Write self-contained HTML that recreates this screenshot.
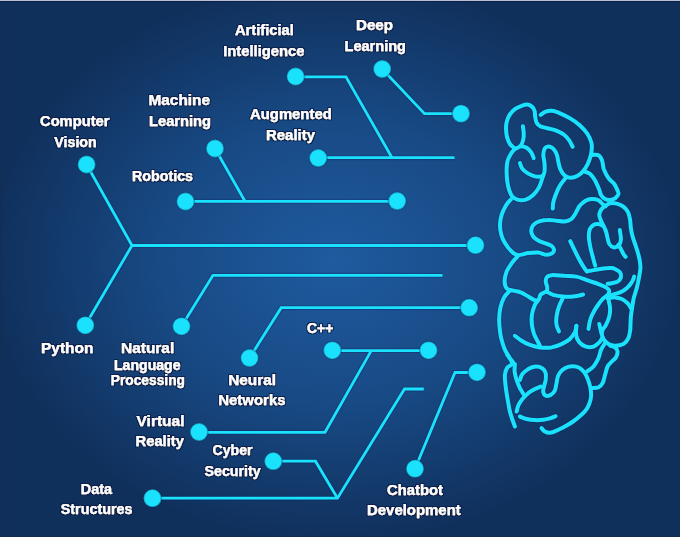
<!DOCTYPE html>
<html><head><meta charset="utf-8"><title>AI Topics</title>
<style>
html,body{margin:0;padding:0;background:#10305c;}
body{width:680px;height:537px;overflow:hidden;position:relative;}
#bg{position:absolute;left:0;top:0;width:680px;height:537px;
 background:radial-gradient(ellipse 345px 280px at 335px 262px,#1f5b9f 0%,#184a85 50%,#10305c 100%);}
#edge{position:absolute;left:0;top:0;width:680px;height:537px;box-sizing:border-box;border:1px solid rgba(30,40,72,.45);}
#topline{position:absolute;left:0;top:0;width:680px;height:1px;background:#b9c0d2;}
#topline2{position:absolute;left:0;top:1px;width:680px;height:1px;background:#0a1f4c;}
svg{position:absolute;left:0;top:0;}
.ln{fill:none;stroke:#1ae2fc;stroke-width:2.8;stroke-linejoin:miter;stroke-linecap:butt;}
.sh{fill:none;stroke:#0c2a66;stroke-opacity:.35;stroke-width:5;stroke-linejoin:miter;}
.dot{fill:#1ae2fc;stroke:#0e2d5e;stroke-opacity:.35;stroke-width:1.6;}
.br{fill:none;stroke:#1ae2fc;stroke-width:4;stroke-linecap:round;stroke-linejoin:round;}
.brs{fill:none;stroke:#0c2a66;stroke-opacity:.35;stroke-width:6;stroke-linecap:round;stroke-linejoin:round;}
text{font-family:"Liberation Sans",sans-serif;font-weight:bold;font-size:15.4px;fill:#fff;stroke:#fff;stroke-width:.25px;stroke-linejoin:round;}
</style></head>
<body>
<div id="bg"></div>
<svg id="art" width="680" height="537" viewBox="0 0 680 537">

<g class="sh">
<path d="M86.6 164.5 L132 245.5 L85.3 325.3"/>
<path d="M132 245.5 H475.5"/>
<path d="M185.5 201.3 H397.2"/>
<path d="M215 148.5 L245 201.3"/>
<path d="M318.2 157.7 H454.5"/>
<path d="M295.6 76.8 H346 L392 157.7"/>
<path d="M382.2 69 L424.5 113.7 H461"/>
<path d="M181.5 326.3 L213 275.3 H442.5"/>
<path d="M249.5 358 L281.2 307.7 H469.2"/>
<path d="M332.3 350.6 H428.5"/>
<path d="M199 432.3 H325 L371.3 350.6"/>
<path d="M273.3 461.2 H315.5 L337.5 498.2"/>
<path d="M152.5 498.2 H337.5 L404.5 389 H423.8"/>
<path d="M415 468.7 L455 372.5 H477"/>
</g>
<g class="ln">
<path d="M86.6 164.5 L132 245.5 L85.3 325.3"/>
<path d="M132 245.5 H475.5"/>
<path d="M185.5 201.3 H397.2"/>
<path d="M215 148.5 L245 201.3"/>
<path d="M318.2 157.7 H454.5"/>
<path d="M295.6 76.8 H346 L392 157.7"/>
<path d="M382.2 69 L424.5 113.7 H461"/>
<path d="M181.5 326.3 L213 275.3 H442.5"/>
<path d="M249.5 358 L281.2 307.7 H469.2"/>
<path d="M332.3 350.6 H428.5"/>
<path d="M199 432.3 H325 L371.3 350.6"/>
<path d="M273.3 461.2 H315.5 L337.5 498.2"/>
<path d="M152.5 498.2 H337.5 L404.5 389 H423.8"/>
<path d="M415 468.7 L455 372.5 H477"/>
</g>
<g class="dot">
<circle cx="86.6" cy="164.5" r="8.9"/>
<circle cx="85.3" cy="325.3" r="8.9"/>
<circle cx="475.5" cy="245.2" r="8.9"/>
<circle cx="185.5" cy="201.5" r="8.9"/>
<circle cx="397.2" cy="201" r="8.9"/>
<circle cx="215" cy="148.5" r="8.9"/>
<circle cx="318.2" cy="158" r="8.9"/>
<circle cx="295.6" cy="76.5" r="8.9"/>
<circle cx="382.2" cy="69" r="8.9"/>
<circle cx="461" cy="113.6" r="8.9"/>
<circle cx="181.5" cy="326.3" r="8.9"/>
<circle cx="249.5" cy="358" r="8.9"/>
<circle cx="469.2" cy="307.7" r="8.9"/>
<circle cx="332.3" cy="350.3" r="8.9"/>
<circle cx="428.5" cy="350.3" r="8.9"/>
<circle cx="199" cy="432" r="8.9"/>
<circle cx="273.3" cy="461.2" r="8.9"/>
<circle cx="152.5" cy="498.2" r="8.9"/>
<circle cx="415" cy="468.7" r="8.9"/>
<circle cx="477" cy="372.3" r="8.9"/>
</g>
<g class="brs">
<path d="M514.9 148.5 C514.1 147.7 511.2 145.9 509.9 144.0 C508.6 142.2 507.8 139.7 507.1 137.4 C506.5 135.0 506.2 132.4 506.1 129.9 C506.0 127.4 506.0 124.9 506.6 122.4 C507.2 119.9 508.2 117.1 509.6 114.9 C511.0 112.7 512.9 110.6 514.9 109.1 C516.9 107.6 519.5 106.5 521.6 105.8 C523.7 105.0 525.7 104.5 527.4 104.6 C529.1 104.8 530.7 105.6 531.9 106.6 C533.1 107.6 534.0 109.1 534.5 110.8 C535.1 112.4 534.9 114.6 535.2 116.6 C535.5 118.5 535.7 120.8 536.5 122.4 C537.4 124.0 538.4 125.3 540.2 126.2 C542.0 127.2 544.8 127.5 547.3 128.2 C549.9 128.9 553.0 129.4 555.6 130.4 C558.3 131.4 560.9 132.5 563.1 134.0 C565.3 135.6 567.4 137.7 568.9 139.9 C570.5 142.0 572.0 145.7 572.6 146.8"/>
<path d="M522.9 126.2 C523.0 127.4 523.7 130.9 523.7 133.2 C523.8 135.5 523.7 137.8 523.2 139.9 C522.7 141.9 522.1 144.1 520.7 145.7 C519.4 147.2 515.9 148.4 514.9 149.0"/>
<path d="M520.7 146.2 C521.7 146.4 524.8 146.8 526.6 147.8 C528.3 148.9 530.0 150.6 531.2 152.3 C532.4 154.0 533.3 157.2 533.7 158.1"/>
<path d="M514.9 149.0 C514.2 149.8 512.0 151.9 510.8 154.0 C509.5 156.1 508.1 158.8 507.4 161.5 C506.8 164.1 506.7 166.7 506.6 169.8 C506.6 172.9 506.7 176.6 507.1 180.0 C507.5 183.3 508.2 187.2 509.1 189.9 C510.0 192.7 510.9 194.9 512.4 196.6 C514.0 198.2 516.0 199.4 518.2 199.9 C520.5 200.4 523.2 200.4 525.7 199.6 C528.2 198.7 531.0 196.9 533.2 194.9 C535.4 192.9 537.5 190.2 539.0 187.4 C540.5 184.7 541.4 181.0 542.3 178.3 C543.3 175.7 544.1 174.1 544.5 171.5 C544.8 169.0 544.7 166.0 544.5 163.2 C544.3 160.5 543.3 157.4 543.3 154.9 C543.4 152.4 543.9 149.7 544.8 148.3 C545.8 146.9 547.5 146.5 549.0 146.6 C550.4 146.8 552.3 147.7 553.6 149.1 C554.9 150.5 556.2 152.8 556.9 154.9 C557.7 157.0 557.7 159.2 558.3 161.6 C558.8 163.9 559.2 166.8 560.3 169.1 C561.3 171.3 562.8 173.8 564.4 175.2 C566.1 176.6 568.0 177.6 570.2 177.7 C572.5 177.8 575.5 176.9 577.7 175.7 C579.9 174.5 581.9 172.7 583.5 170.7 C585.2 168.8 586.5 166.4 587.7 164.1 C588.8 161.7 589.8 159.2 590.5 156.6 C591.2 154.0 591.7 150.7 591.8 148.3 C592.0 145.9 592.1 144.8 591.3 142.3 C590.6 139.8 589.1 136.4 587.2 133.5 C585.3 130.7 582.5 127.7 579.7 125.2 C577.0 122.7 573.8 120.5 570.6 118.6 C567.4 116.6 563.7 114.9 560.6 113.6 C557.6 112.3 554.8 111.1 552.3 110.8 C549.8 110.4 547.6 110.9 545.7 111.6 C543.7 112.3 541.5 114.4 540.7 114.9"/>
<path d="M519.9 163.1 C520.3 164.1 521.2 167.3 522.4 168.9 C523.7 170.6 525.5 171.9 527.4 173.1 C529.3 174.3 532.0 175.5 534.0 176.1 C536.1 176.7 538.3 176.8 539.9 176.7 C541.4 176.6 542.6 175.7 543.2 175.5"/>
<path d="M565.6 178.0 C564.6 179.3 561.5 182.8 559.8 185.8 C558.1 188.8 556.4 192.8 555.3 195.8 C554.2 198.7 553.6 201.1 553.1 203.2 C552.7 205.4 552.9 207.7 552.8 208.6"/>
<path d="M592.7 154.9 C593.6 155.0 596.9 154.3 598.5 155.3 C600.1 156.2 601.3 158.4 602.1 160.7 C603.0 163.0 602.8 166.1 603.8 169.1 C604.9 172.0 606.7 175.7 608.5 178.2 C610.2 180.7 612.7 181.9 614.3 184.0 C615.8 186.1 616.9 189.0 617.6 190.7 C618.3 192.3 618.8 192.9 618.4 194.2 C618.0 195.4 616.5 197.3 615.1 198.3 C613.7 199.3 611.8 199.8 610.1 200.0 C608.5 200.1 606.7 200.0 605.1 199.1 C603.6 198.3 601.9 196.5 601.0 195.0 C600.0 193.4 600.3 192.2 599.3 189.8 C598.3 187.4 596.7 183.3 595.2 180.7 C593.6 178.1 592.0 175.6 590.2 174.0 C588.4 172.5 585.3 172.0 584.4 171.5"/>
<path d="M605.1 205.8 C606.0 205.4 608.2 203.7 610.1 203.3 C612.1 202.9 614.5 203.1 616.8 203.6 C619.0 204.2 621.5 205.1 623.4 206.6 C625.3 208.1 627.0 210.2 628.1 212.4 C629.2 214.6 629.6 217.3 630.1 219.9 C630.5 222.5 630.5 225.5 630.9 228.2 C631.3 231.0 631.8 233.8 632.6 236.5 C633.3 239.3 634.5 242.1 635.4 244.8 C636.3 247.6 637.3 250.4 638.0 253.1 C638.8 255.9 639.5 258.9 639.9 261.5 C640.3 264.0 640.5 265.5 640.4 268.3 C640.2 271.1 639.5 274.9 638.9 278.2 C638.3 281.6 637.6 284.9 636.7 288.2 C635.8 291.5 634.5 295.0 633.7 298.2 C633.0 301.4 632.7 304.3 632.2 307.3 C631.7 310.4 631.2 313.3 630.9 316.5 C630.6 319.7 630.5 324.2 630.4 326.4 C630.3 328.7 630.6 328.0 630.2 329.9 C629.9 331.9 629.5 335.9 628.4 338.2 C627.3 340.6 625.6 342.8 623.4 344.1 C621.2 345.3 617.6 345.7 615.1 345.7 C612.6 345.7 610.4 345.2 608.5 344.1 C606.5 343.0 604.7 341.2 603.5 339.1 C602.2 337.0 601.7 334.0 601.0 331.4 C600.3 328.9 599.6 325.2 599.3 324.0"/>
<path d="M605.1 205.8 C604.4 206.5 601.9 208.4 601.0 209.9 C600.0 211.5 599.3 213.1 599.3 214.9 C599.3 216.7 600.3 218.9 601.0 220.7 C601.7 222.5 602.6 223.9 603.5 225.7 C604.3 227.5 605.3 229.5 606.0 231.5 C606.7 233.6 607.1 236.1 607.6 238.2 C608.2 240.3 608.3 242.5 609.3 244.0 C610.3 245.5 611.9 247.1 613.4 247.3 C615.0 247.6 617.2 246.9 618.4 245.7 C619.7 244.4 620.7 242.5 620.9 239.9 C621.1 237.2 619.9 231.5 619.8 229.9"/>
<path d="M618.4 244.8 C618.8 245.5 620.1 247.5 620.9 249.0 C621.8 250.5 622.6 252.7 623.4 254.0 C624.2 255.3 625.2 256.3 625.6 256.8"/>
<path d="M595.2 265.6 C594.7 264.1 593.5 259.7 592.7 256.5 C591.8 253.3 590.8 249.8 590.2 246.5 C589.5 243.2 588.9 239.4 588.8 236.5 C588.8 233.6 589.1 231.0 589.8 229.1 C590.6 227.1 592.1 225.7 593.5 224.9 C594.9 224.1 597.0 223.9 598.5 224.1 C600.0 224.2 601.9 225.5 602.6 225.7"/>
<path d="M510.8 199.6 C509.9 200.6 507.3 203.2 505.8 205.7 C504.3 208.3 502.6 211.7 501.6 214.9 C500.7 218.1 500.0 221.5 500.0 224.8 C499.9 228.2 500.5 231.8 501.3 234.8 C502.1 237.9 503.4 240.5 505.0 243.1 C506.5 245.7 508.7 248.6 510.8 250.6 C512.8 252.6 514.5 254.7 517.4 255.1 C520.3 255.5 524.8 253.5 528.2 253.1 C531.7 252.7 535.1 252.3 538.2 252.6 C541.2 252.9 544.1 254.7 546.5 254.8 C548.9 254.8 551.1 254.0 552.3 253.1 C553.6 252.2 554.2 250.7 554.0 249.4 C553.8 248.2 552.7 246.7 551.2 245.6 C549.6 244.6 547.0 243.9 544.8 243.1 C542.7 242.3 540.1 241.7 538.2 240.6 C536.3 239.5 534.4 238.1 533.2 236.5 C532.0 234.8 531.2 232.6 531.2 230.7 C531.3 228.7 532.1 226.4 533.5 224.8 C535.0 223.3 537.4 222.0 539.9 221.2 C542.3 220.4 545.4 219.9 548.2 219.9 C550.9 219.8 553.7 220.4 556.5 220.7 C559.2 221.0 562.3 221.8 564.8 221.5 C567.3 221.2 569.6 220.4 571.4 219.0 C573.2 217.6 574.2 215.4 575.6 213.2 C577.0 211.0 578.1 207.8 579.7 205.7 C581.4 203.7 583.6 201.9 585.6 200.7 C587.5 199.6 589.2 199.2 591.4 199.1 C593.5 199.0 596.5 199.3 598.5 200.3 C600.5 201.3 602.3 204.0 603.5 205.0 C604.6 206.0 605.1 206.1 605.5 206.3"/>
<path d="M570.2 241.2 C570.9 242.6 572.9 246.7 574.4 249.8 C575.9 252.9 577.7 256.7 579.4 259.8 C581.0 262.8 583.1 266.2 584.4 268.1 C585.6 270.0 586.4 270.9 586.9 271.4"/>
<path d="M586.9 271.4 C588.0 271.2 590.7 270.6 593.5 270.1 C596.3 269.6 600.4 268.8 603.5 268.4 C606.5 268.1 609.8 268.0 611.8 268.1 C613.7 268.2 613.7 268.4 615.1 269.1 C616.5 269.8 619.1 271.0 620.1 272.4 C621.1 273.8 621.3 275.9 620.9 277.4 C620.5 278.9 619.1 280.6 617.6 281.6 C616.1 282.5 613.4 282.9 611.8 283.2 C610.1 283.6 608.3 283.7 607.6 283.7"/>
<path d="M517.4 256.6 C516.4 257.8 513.4 260.8 511.6 263.3 C509.8 265.8 507.8 268.7 506.6 271.6 C505.5 274.5 504.6 278.0 504.6 280.7 C504.6 283.5 505.2 286.6 506.6 288.2 C508.1 289.9 510.9 290.0 513.3 290.7 C515.6 291.4 518.2 291.4 520.7 292.4 C523.2 293.3 526.0 295.3 528.2 296.5 C530.4 297.8 532.5 299.2 534.0 299.9 C535.6 300.5 536.8 300.5 537.4 300.7"/>
<path d="M509.9 290.7 C509.0 291.8 505.7 294.5 504.1 297.4 C502.5 300.3 501.1 304.4 500.3 308.2 C499.5 311.9 499.2 315.9 499.1 319.8 C499.1 323.7 499.6 328.1 500.0 331.4 C500.4 334.8 500.8 336.8 501.6 339.9 C502.5 343.0 503.6 346.8 505.0 349.9 C506.3 352.9 508.6 356.0 509.9 358.2 C511.3 360.4 513.7 361.6 513.3 363.2 C512.8 364.7 508.8 365.6 507.4 367.5 C506.1 369.3 505.3 371.5 505.0 374.1 C504.6 376.7 505.0 380.1 505.3 383.2 C505.6 386.4 506.1 389.9 506.6 393.2 C507.1 396.5 507.7 400.1 508.3 403.2 C508.8 406.2 509.2 408.7 509.9 411.5 C510.6 414.3 511.6 417.3 512.4 419.8 C513.3 422.3 514.5 425.3 514.9 426.5"/>
<path d="M546.5 291.5 C546.6 290.9 547.5 289.1 547.3 287.4 C547.2 285.7 545.7 283.4 545.7 281.6 C545.7 279.8 546.1 277.7 547.3 276.6 C548.6 275.5 550.2 275.1 553.1 274.9 C556.1 274.8 560.9 275.5 564.8 275.8 C568.7 276.0 572.5 275.8 576.4 276.6 C580.4 277.4 584.8 279.5 588.5 280.7 C592.2 282.0 595.6 283.0 598.5 284.1 C601.4 285.2 604.2 286.3 606.0 287.4 C607.8 288.5 609.0 289.5 609.3 290.7 C609.6 292.0 608.6 293.6 607.6 294.9 C606.7 296.1 604.9 296.8 603.5 298.2 C602.1 299.6 600.8 301.1 599.3 303.2 C597.8 305.3 595.9 307.9 594.3 310.7 C592.8 313.4 591.1 316.7 590.2 319.8 C589.2 322.8 588.8 327.4 588.5 328.9"/>
<path d="M546.5 291.5 C547.6 292.1 550.4 294.0 553.1 294.9 C555.9 295.7 559.8 296.3 563.1 296.5 C566.4 296.8 569.8 296.9 573.1 296.5 C576.4 296.2 581.4 294.9 583.1 294.5"/>
<path d="M546.5 291.5 C545.5 292.0 541.9 293.3 540.7 294.5 C539.4 295.8 540.0 297.3 539.0 299.0 C538.1 300.7 536.1 302.2 534.9 304.8 C533.7 307.5 532.4 311.5 531.9 314.8 C531.4 318.1 531.5 321.6 531.9 324.8 C532.2 328.0 533.3 331.5 534.0 333.9 C534.8 336.3 535.6 337.1 536.5 339.1 C537.5 341.0 539.3 344.6 539.9 345.7"/>
<path d="M563.1 297.4 C562.4 298.9 560.1 303.3 559.0 306.5 C557.9 309.7 556.9 313.4 556.5 316.5 C556.1 319.5 556.1 322.3 556.5 324.8 C556.9 327.3 558.5 330.3 559.0 331.4"/>
<path d="M514.9 335.8 C516.0 336.6 519.1 339.2 521.6 340.7 C524.1 342.3 526.8 343.8 529.9 344.9 C532.9 346.0 536.3 347.0 539.9 347.4 C543.5 347.8 547.9 347.9 551.5 347.4 C555.1 346.8 558.4 345.5 561.5 344.1 C564.5 342.7 567.5 341.0 569.8 339.1 C572.0 337.1 573.6 334.6 574.8 332.4 C575.9 330.2 576.1 326.9 576.4 325.8"/>
<path d="M576.4 325.8 C576.4 327.3 575.6 332.2 576.1 334.9 C576.5 337.7 577.7 340.5 579.4 342.4 C581.0 344.3 583.7 345.9 586.0 346.6 C588.4 347.3 591.3 347.3 593.5 346.6 C595.7 345.9 597.8 343.9 599.3 342.4 C600.8 340.9 602.1 338.2 602.6 337.4"/>
<path d="M634.2 276.6 C633.8 277.6 633.0 280.5 631.7 282.4 C630.5 284.3 628.7 286.6 626.7 288.2 C624.8 289.9 622.6 291.3 620.1 292.4 C617.6 293.5 614.0 294.2 611.8 294.9 C609.6 295.5 607.6 296.0 606.8 296.2"/>
<path d="M607.6 298.2 C608.9 298.1 612.7 297.2 615.1 297.4 C617.5 297.5 619.7 298.1 621.8 299.0 C623.8 300.0 626.0 301.7 627.6 303.2 C629.1 304.7 630.3 307.3 630.9 308.2"/>
<path d="M608.5 299.9 C608.7 301.2 610.0 305.4 610.1 308.2 C610.3 310.9 610.0 313.7 609.3 316.5 C608.6 319.2 607.1 322.6 606.0 324.8 C604.9 327.0 603.3 328.4 602.6 329.8 C601.9 331.2 601.9 332.7 601.8 333.3"/>
<path d="M605.1 343.2 C604.4 344.3 602.1 347.4 601.0 349.9 C599.9 352.4 599.7 355.4 598.5 358.2 C597.2 361.0 595.4 364.3 593.5 366.5 C591.6 368.7 588.0 370.7 586.9 371.5"/>
<path d="M610.1 345.7 C610.9 346.0 613.9 346.4 615.1 347.4 C616.3 348.4 617.5 349.9 617.6 351.5 C617.7 353.2 616.9 355.7 615.9 357.4 C615.0 359.0 613.2 360.0 611.8 361.5 C610.4 363.0 608.7 364.3 607.6 366.5 C606.5 368.7 606.0 372.0 605.1 374.8 C604.3 377.6 603.7 381.0 602.6 383.1 C601.5 385.2 600.1 386.4 598.5 387.3 C596.8 388.1 593.6 388.0 592.7 388.1"/>
<path d="M507.4 355.0 C508.0 355.8 509.9 358.6 510.8 360.0 C511.6 361.4 512.2 362.8 512.4 363.3"/>
<path d="M514.9 364.1 C514.9 365.4 514.3 369.0 514.6 371.6 C514.9 374.2 515.7 377.2 516.6 379.9 C517.5 382.7 518.7 385.7 519.9 388.2 C521.2 390.7 523.4 393.8 524.1 394.9"/>
<path d="M519.9 379.9 C520.3 379.0 521.0 375.9 522.4 374.1 C523.8 372.3 526.0 370.4 528.2 369.1 C530.4 367.9 533.3 366.8 535.7 366.6 C538.1 366.5 540.7 367.2 542.3 368.3 C544.0 369.4 545.1 371.3 545.7 373.3 C546.2 375.2 545.9 377.7 545.7 379.9 C545.4 382.1 544.4 384.6 544.0 386.6 C543.6 388.5 542.9 390.0 543.2 391.6 C543.5 393.1 544.4 395.2 545.7 395.7 C546.9 396.3 549.1 395.7 550.7 394.9 C552.2 394.1 553.8 392.7 554.8 390.7 C555.8 388.8 555.9 385.7 556.5 383.2 C557.0 380.8 557.2 378.0 558.1 375.8 C559.1 373.6 560.5 371.5 562.3 370.0 C564.1 368.4 566.6 367.2 568.9 366.6 C571.3 366.1 574.2 366.1 576.4 366.6 C578.6 367.2 580.6 368.4 582.2 370.0 C583.9 371.5 585.2 373.6 586.4 375.8 C587.5 378.0 588.4 380.6 589.2 383.2 C590.0 385.9 590.8 388.8 591.0 391.6 C591.3 394.3 591.2 397.1 590.5 399.9 C589.9 402.6 588.7 405.7 587.2 408.2 C585.7 410.7 583.8 412.6 581.4 414.8 C579.0 417.0 575.9 419.5 573.1 421.5 C570.3 423.4 567.5 424.9 564.8 426.5 C562.0 428.0 559.0 429.6 556.5 430.6 C554.0 431.7 551.8 432.6 549.8 432.8 C547.9 432.9 546.2 432.2 544.8 431.4 C543.5 430.7 542.1 428.7 541.5 428.1"/>
<path d="M540.7 386.6 C539.7 387.0 536.9 388.0 534.9 389.1 C532.8 390.2 530.3 391.6 528.2 393.2 C526.1 394.9 524.1 397.0 522.4 399.0 C520.7 401.1 519.2 403.6 518.2 405.7 C517.3 407.8 516.9 410.5 516.6 411.5"/>
<path d="M519.9 416.5 C521.0 416.9 524.1 418.4 526.6 419.0 C529.1 419.6 532.1 420.0 534.9 420.1 C537.6 420.3 540.5 420.1 543.2 419.8 C545.8 419.5 548.6 418.8 550.7 418.1 C552.7 417.5 554.8 416.5 555.6 416.2"/>
</g>
<g class="br">
<path id="p1" d="M514.9 148.5 C514.1 147.7 511.2 145.9 509.9 144.0 C508.6 142.2 507.8 139.7 507.1 137.4 C506.5 135.0 506.2 132.4 506.1 129.9 C506.0 127.4 506.0 124.9 506.6 122.4 C507.2 119.9 508.2 117.1 509.6 114.9 C511.0 112.7 512.9 110.6 514.9 109.1 C516.9 107.6 519.5 106.5 521.6 105.8 C523.7 105.0 525.7 104.5 527.4 104.6 C529.1 104.8 530.7 105.6 531.9 106.6 C533.1 107.6 534.0 109.1 534.5 110.8 C535.1 112.4 534.9 114.6 535.2 116.6 C535.5 118.5 535.7 120.8 536.5 122.4 C537.4 124.0 538.4 125.3 540.2 126.2 C542.0 127.2 544.8 127.5 547.3 128.2 C549.9 128.9 553.0 129.4 555.6 130.4 C558.3 131.4 560.9 132.5 563.1 134.0 C565.3 135.6 567.4 137.7 568.9 139.9 C570.5 142.0 572.0 145.7 572.6 146.8"/>
<path id="p2" d="M522.9 126.2 C523.0 127.4 523.7 130.9 523.7 133.2 C523.8 135.5 523.7 137.8 523.2 139.9 C522.7 141.9 522.1 144.1 520.7 145.7 C519.4 147.2 515.9 148.4 514.9 149.0"/>
<path id="p3" d="M520.7 146.2 C521.7 146.4 524.8 146.8 526.6 147.8 C528.3 148.9 530.0 150.6 531.2 152.3 C532.4 154.0 533.3 157.2 533.7 158.1"/>
<path id="p4" d="M514.9 149.0 C514.2 149.8 512.0 151.9 510.8 154.0 C509.5 156.1 508.1 158.8 507.4 161.5 C506.8 164.1 506.7 166.7 506.6 169.8 C506.6 172.9 506.7 176.6 507.1 180.0 C507.5 183.3 508.2 187.2 509.1 189.9 C510.0 192.7 510.9 194.9 512.4 196.6 C514.0 198.2 516.0 199.4 518.2 199.9 C520.5 200.4 523.2 200.4 525.7 199.6 C528.2 198.7 531.0 196.9 533.2 194.9 C535.4 192.9 537.5 190.2 539.0 187.4 C540.5 184.7 541.4 181.0 542.3 178.3 C543.3 175.7 544.1 174.1 544.5 171.5 C544.8 169.0 544.7 166.0 544.5 163.2 C544.3 160.5 543.3 157.4 543.3 154.9 C543.4 152.4 543.9 149.7 544.8 148.3 C545.8 146.9 547.5 146.5 549.0 146.6 C550.4 146.8 552.3 147.7 553.6 149.1 C554.9 150.5 556.2 152.8 556.9 154.9 C557.7 157.0 557.7 159.2 558.3 161.6 C558.8 163.9 559.2 166.8 560.3 169.1 C561.3 171.3 562.8 173.8 564.4 175.2 C566.1 176.6 568.0 177.6 570.2 177.7 C572.5 177.8 575.5 176.9 577.7 175.7 C579.9 174.5 581.9 172.7 583.5 170.7 C585.2 168.8 586.5 166.4 587.7 164.1 C588.8 161.7 589.8 159.2 590.5 156.6 C591.2 154.0 591.7 150.7 591.8 148.3 C592.0 145.9 592.1 144.8 591.3 142.3 C590.6 139.8 589.1 136.4 587.2 133.5 C585.3 130.7 582.5 127.7 579.7 125.2 C577.0 122.7 573.8 120.5 570.6 118.6 C567.4 116.6 563.7 114.9 560.6 113.6 C557.6 112.3 554.8 111.1 552.3 110.8 C549.8 110.4 547.6 110.9 545.7 111.6 C543.7 112.3 541.5 114.4 540.7 114.9"/>
<path id="p5" d="M519.9 163.1 C520.3 164.1 521.2 167.3 522.4 168.9 C523.7 170.6 525.5 171.9 527.4 173.1 C529.3 174.3 532.0 175.5 534.0 176.1 C536.1 176.7 538.3 176.8 539.9 176.7 C541.4 176.6 542.6 175.7 543.2 175.5"/>
<path id="p6" d="M565.6 178.0 C564.6 179.3 561.5 182.8 559.8 185.8 C558.1 188.8 556.4 192.8 555.3 195.8 C554.2 198.7 553.6 201.1 553.1 203.2 C552.7 205.4 552.9 207.7 552.8 208.6"/>
<path id="p7" d="M592.7 154.9 C593.6 155.0 596.9 154.3 598.5 155.3 C600.1 156.2 601.3 158.4 602.1 160.7 C603.0 163.0 602.8 166.1 603.8 169.1 C604.9 172.0 606.7 175.7 608.5 178.2 C610.2 180.7 612.7 181.9 614.3 184.0 C615.8 186.1 616.9 189.0 617.6 190.7 C618.3 192.3 618.8 192.9 618.4 194.2 C618.0 195.4 616.5 197.3 615.1 198.3 C613.7 199.3 611.8 199.8 610.1 200.0 C608.5 200.1 606.7 200.0 605.1 199.1 C603.6 198.3 601.9 196.5 601.0 195.0 C600.0 193.4 600.3 192.2 599.3 189.8 C598.3 187.4 596.7 183.3 595.2 180.7 C593.6 178.1 592.0 175.6 590.2 174.0 C588.4 172.5 585.3 172.0 584.4 171.5"/>
<path id="p8" d="M605.1 205.8 C606.0 205.4 608.2 203.7 610.1 203.3 C612.1 202.9 614.5 203.1 616.8 203.6 C619.0 204.2 621.5 205.1 623.4 206.6 C625.3 208.1 627.0 210.2 628.1 212.4 C629.2 214.6 629.6 217.3 630.1 219.9 C630.5 222.5 630.5 225.5 630.9 228.2 C631.3 231.0 631.8 233.8 632.6 236.5 C633.3 239.3 634.5 242.1 635.4 244.8 C636.3 247.6 637.3 250.4 638.0 253.1 C638.8 255.9 639.5 258.9 639.9 261.5 C640.3 264.0 640.5 265.5 640.4 268.3 C640.2 271.1 639.5 274.9 638.9 278.2 C638.3 281.6 637.6 284.9 636.7 288.2 C635.8 291.5 634.5 295.0 633.7 298.2 C633.0 301.4 632.7 304.3 632.2 307.3 C631.7 310.4 631.2 313.3 630.9 316.5 C630.6 319.7 630.5 324.2 630.4 326.4 C630.3 328.7 630.6 328.0 630.2 329.9 C629.9 331.9 629.5 335.9 628.4 338.2 C627.3 340.6 625.6 342.8 623.4 344.1 C621.2 345.3 617.6 345.7 615.1 345.7 C612.6 345.7 610.4 345.2 608.5 344.1 C606.5 343.0 604.7 341.2 603.5 339.1 C602.2 337.0 601.7 334.0 601.0 331.4 C600.3 328.9 599.6 325.2 599.3 324.0"/>
<path id="p9" d="M605.1 205.8 C604.4 206.5 601.9 208.4 601.0 209.9 C600.0 211.5 599.3 213.1 599.3 214.9 C599.3 216.7 600.3 218.9 601.0 220.7 C601.7 222.5 602.6 223.9 603.5 225.7 C604.3 227.5 605.3 229.5 606.0 231.5 C606.7 233.6 607.1 236.1 607.6 238.2 C608.2 240.3 608.3 242.5 609.3 244.0 C610.3 245.5 611.9 247.1 613.4 247.3 C615.0 247.6 617.2 246.9 618.4 245.7 C619.7 244.4 620.7 242.5 620.9 239.9 C621.1 237.2 619.9 231.5 619.8 229.9"/>
<path id="p10" d="M618.4 244.8 C618.8 245.5 620.1 247.5 620.9 249.0 C621.8 250.5 622.6 252.7 623.4 254.0 C624.2 255.3 625.2 256.3 625.6 256.8"/>
<path id="p11" d="M595.2 265.6 C594.7 264.1 593.5 259.7 592.7 256.5 C591.8 253.3 590.8 249.8 590.2 246.5 C589.5 243.2 588.9 239.4 588.8 236.5 C588.8 233.6 589.1 231.0 589.8 229.1 C590.6 227.1 592.1 225.7 593.5 224.9 C594.9 224.1 597.0 223.9 598.5 224.1 C600.0 224.2 601.9 225.5 602.6 225.7"/>
<path id="p12" d="M510.8 199.6 C509.9 200.6 507.3 203.2 505.8 205.7 C504.3 208.3 502.6 211.7 501.6 214.9 C500.7 218.1 500.0 221.5 500.0 224.8 C499.9 228.2 500.5 231.8 501.3 234.8 C502.1 237.9 503.4 240.5 505.0 243.1 C506.5 245.7 508.7 248.6 510.8 250.6 C512.8 252.6 514.5 254.7 517.4 255.1 C520.3 255.5 524.8 253.5 528.2 253.1 C531.7 252.7 535.1 252.3 538.2 252.6 C541.2 252.9 544.1 254.7 546.5 254.8 C548.9 254.8 551.1 254.0 552.3 253.1 C553.6 252.2 554.2 250.7 554.0 249.4 C553.8 248.2 552.7 246.7 551.2 245.6 C549.6 244.6 547.0 243.9 544.8 243.1 C542.7 242.3 540.1 241.7 538.2 240.6 C536.3 239.5 534.4 238.1 533.2 236.5 C532.0 234.8 531.2 232.6 531.2 230.7 C531.3 228.7 532.1 226.4 533.5 224.8 C535.0 223.3 537.4 222.0 539.9 221.2 C542.3 220.4 545.4 219.9 548.2 219.9 C550.9 219.8 553.7 220.4 556.5 220.7 C559.2 221.0 562.3 221.8 564.8 221.5 C567.3 221.2 569.6 220.4 571.4 219.0 C573.2 217.6 574.2 215.4 575.6 213.2 C577.0 211.0 578.1 207.8 579.7 205.7 C581.4 203.7 583.6 201.9 585.6 200.7 C587.5 199.6 589.2 199.2 591.4 199.1 C593.5 199.0 596.5 199.3 598.5 200.3 C600.5 201.3 602.3 204.0 603.5 205.0 C604.6 206.0 605.1 206.1 605.5 206.3"/>
<path id="p13a" d="M570.2 241.2 C570.9 242.6 572.9 246.7 574.4 249.8 C575.9 252.9 577.7 256.7 579.4 259.8 C581.0 262.8 583.1 266.2 584.4 268.1 C585.6 270.0 586.4 270.9 586.9 271.4"/>
<path id="p13b" d="M586.9 271.4 C588.0 271.2 590.7 270.6 593.5 270.1 C596.3 269.6 600.4 268.8 603.5 268.4 C606.5 268.1 609.8 268.0 611.8 268.1 C613.7 268.2 613.7 268.4 615.1 269.1 C616.5 269.8 619.1 271.0 620.1 272.4 C621.1 273.8 621.3 275.9 620.9 277.4 C620.5 278.9 619.1 280.6 617.6 281.6 C616.1 282.5 613.4 282.9 611.8 283.2 C610.1 283.6 608.3 283.7 607.6 283.7"/>
<path id="p14" d="M517.4 256.6 C516.4 257.8 513.4 260.8 511.6 263.3 C509.8 265.8 507.8 268.7 506.6 271.6 C505.5 274.5 504.6 278.0 504.6 280.7 C504.6 283.5 505.2 286.6 506.6 288.2 C508.1 289.9 510.9 290.0 513.3 290.7 C515.6 291.4 518.2 291.4 520.7 292.4 C523.2 293.3 526.0 295.3 528.2 296.5 C530.4 297.8 532.5 299.2 534.0 299.9 C535.6 300.5 536.8 300.5 537.4 300.7"/>
<path id="p15" d="M509.9 290.7 C509.0 291.8 505.7 294.5 504.1 297.4 C502.5 300.3 501.1 304.4 500.3 308.2 C499.5 311.9 499.2 315.9 499.1 319.8 C499.1 323.7 499.6 328.1 500.0 331.4 C500.4 334.8 500.8 336.8 501.6 339.9 C502.5 343.0 503.6 346.8 505.0 349.9 C506.3 352.9 508.6 356.0 509.9 358.2 C511.3 360.4 513.7 361.6 513.3 363.2 C512.8 364.7 508.8 365.6 507.4 367.5 C506.1 369.3 505.3 371.5 505.0 374.1 C504.6 376.7 505.0 380.1 505.3 383.2 C505.6 386.4 506.1 389.9 506.6 393.2 C507.1 396.5 507.7 400.1 508.3 403.2 C508.8 406.2 509.2 408.7 509.9 411.5 C510.6 414.3 511.6 417.3 512.4 419.8 C513.3 422.3 514.5 425.3 514.9 426.5"/>
<path id="p16" d="M546.5 291.5 C546.6 290.9 547.5 289.1 547.3 287.4 C547.2 285.7 545.7 283.4 545.7 281.6 C545.7 279.8 546.1 277.7 547.3 276.6 C548.6 275.5 550.2 275.1 553.1 274.9 C556.1 274.8 560.9 275.5 564.8 275.8 C568.7 276.0 572.5 275.8 576.4 276.6 C580.4 277.4 584.8 279.5 588.5 280.7 C592.2 282.0 595.6 283.0 598.5 284.1 C601.4 285.2 604.2 286.3 606.0 287.4 C607.8 288.5 609.0 289.5 609.3 290.7 C609.6 292.0 608.6 293.6 607.6 294.9 C606.7 296.1 604.9 296.8 603.5 298.2 C602.1 299.6 600.8 301.1 599.3 303.2 C597.8 305.3 595.9 307.9 594.3 310.7 C592.8 313.4 591.1 316.7 590.2 319.8 C589.2 322.8 588.8 327.4 588.5 328.9"/>
<path id="p17a" d="M546.5 291.5 C547.6 292.1 550.4 294.0 553.1 294.9 C555.9 295.7 559.8 296.3 563.1 296.5 C566.4 296.8 569.8 296.9 573.1 296.5 C576.4 296.2 581.4 294.9 583.1 294.5"/>
<path id="p17b" d="M546.5 291.5 C545.5 292.0 541.9 293.3 540.7 294.5 C539.4 295.8 540.0 297.3 539.0 299.0 C538.1 300.7 536.1 302.2 534.9 304.8 C533.7 307.5 532.4 311.5 531.9 314.8 C531.4 318.1 531.5 321.6 531.9 324.8 C532.2 328.0 533.3 331.5 534.0 333.9 C534.8 336.3 535.6 337.1 536.5 339.1 C537.5 341.0 539.3 344.6 539.9 345.7"/>
<path id="p18" d="M563.1 297.4 C562.4 298.9 560.1 303.3 559.0 306.5 C557.9 309.7 556.9 313.4 556.5 316.5 C556.1 319.5 556.1 322.3 556.5 324.8 C556.9 327.3 558.5 330.3 559.0 331.4"/>
<path id="p19" d="M514.9 335.8 C516.0 336.6 519.1 339.2 521.6 340.7 C524.1 342.3 526.8 343.8 529.9 344.9 C532.9 346.0 536.3 347.0 539.9 347.4 C543.5 347.8 547.9 347.9 551.5 347.4 C555.1 346.8 558.4 345.5 561.5 344.1 C564.5 342.7 567.5 341.0 569.8 339.1 C572.0 337.1 573.6 334.6 574.8 332.4 C575.9 330.2 576.1 326.9 576.4 325.8"/>
<path id="p20" d="M576.4 325.8 C576.4 327.3 575.6 332.2 576.1 334.9 C576.5 337.7 577.7 340.5 579.4 342.4 C581.0 344.3 583.7 345.9 586.0 346.6 C588.4 347.3 591.3 347.3 593.5 346.6 C595.7 345.9 597.8 343.9 599.3 342.4 C600.8 340.9 602.1 338.2 602.6 337.4"/>
<path id="p21" d="M634.2 276.6 C633.8 277.6 633.0 280.5 631.7 282.4 C630.5 284.3 628.7 286.6 626.7 288.2 C624.8 289.9 622.6 291.3 620.1 292.4 C617.6 293.5 614.0 294.2 611.8 294.9 C609.6 295.5 607.6 296.0 606.8 296.2"/>
<path id="p22" d="M607.6 298.2 C608.9 298.1 612.7 297.2 615.1 297.4 C617.5 297.5 619.7 298.1 621.8 299.0 C623.8 300.0 626.0 301.7 627.6 303.2 C629.1 304.7 630.3 307.3 630.9 308.2"/>
<path id="p23" d="M608.5 299.9 C608.7 301.2 610.0 305.4 610.1 308.2 C610.3 310.9 610.0 313.7 609.3 316.5 C608.6 319.2 607.1 322.6 606.0 324.8 C604.9 327.0 603.3 328.4 602.6 329.8 C601.9 331.2 601.9 332.7 601.8 333.3"/>
<path id="p24" d="M605.1 343.2 C604.4 344.3 602.1 347.4 601.0 349.9 C599.9 352.4 599.7 355.4 598.5 358.2 C597.2 361.0 595.4 364.3 593.5 366.5 C591.6 368.7 588.0 370.7 586.9 371.5"/>
<path id="p25" d="M610.1 345.7 C610.9 346.0 613.9 346.4 615.1 347.4 C616.3 348.4 617.5 349.9 617.6 351.5 C617.7 353.2 616.9 355.7 615.9 357.4 C615.0 359.0 613.2 360.0 611.8 361.5 C610.4 363.0 608.7 364.3 607.6 366.5 C606.5 368.7 606.0 372.0 605.1 374.8 C604.3 377.6 603.7 381.0 602.6 383.1 C601.5 385.2 600.1 386.4 598.5 387.3 C596.8 388.1 593.6 388.0 592.7 388.1"/>
<path id="p26" d="M507.4 355.0 C508.0 355.8 509.9 358.6 510.8 360.0 C511.6 361.4 512.2 362.8 512.4 363.3"/>
<path id="p27" d="M514.9 364.1 C514.9 365.4 514.3 369.0 514.6 371.6 C514.9 374.2 515.7 377.2 516.6 379.9 C517.5 382.7 518.7 385.7 519.9 388.2 C521.2 390.7 523.4 393.8 524.1 394.9"/>
<path id="p28" d="M519.9 379.9 C520.3 379.0 521.0 375.9 522.4 374.1 C523.8 372.3 526.0 370.4 528.2 369.1 C530.4 367.9 533.3 366.8 535.7 366.6 C538.1 366.5 540.7 367.2 542.3 368.3 C544.0 369.4 545.1 371.3 545.7 373.3 C546.2 375.2 545.9 377.7 545.7 379.9 C545.4 382.1 544.4 384.6 544.0 386.6 C543.6 388.5 542.9 390.0 543.2 391.6 C543.5 393.1 544.4 395.2 545.7 395.7 C546.9 396.3 549.1 395.7 550.7 394.9 C552.2 394.1 553.8 392.7 554.8 390.7 C555.8 388.8 555.9 385.7 556.5 383.2 C557.0 380.8 557.2 378.0 558.1 375.8 C559.1 373.6 560.5 371.5 562.3 370.0 C564.1 368.4 566.6 367.2 568.9 366.6 C571.3 366.1 574.2 366.1 576.4 366.6 C578.6 367.2 580.6 368.4 582.2 370.0 C583.9 371.5 585.2 373.6 586.4 375.8 C587.5 378.0 588.4 380.6 589.2 383.2 C590.0 385.9 590.8 388.8 591.0 391.6 C591.3 394.3 591.2 397.1 590.5 399.9 C589.9 402.6 588.7 405.7 587.2 408.2 C585.7 410.7 583.8 412.6 581.4 414.8 C579.0 417.0 575.9 419.5 573.1 421.5 C570.3 423.4 567.5 424.9 564.8 426.5 C562.0 428.0 559.0 429.6 556.5 430.6 C554.0 431.7 551.8 432.6 549.8 432.8 C547.9 432.9 546.2 432.2 544.8 431.4 C543.5 430.7 542.1 428.7 541.5 428.1"/>
<path id="p29" d="M540.7 386.6 C539.7 387.0 536.9 388.0 534.9 389.1 C532.8 390.2 530.3 391.6 528.2 393.2 C526.1 394.9 524.1 397.0 522.4 399.0 C520.7 401.1 519.2 403.6 518.2 405.7 C517.3 407.8 516.9 410.5 516.6 411.5"/>
<path id="p30" d="M519.9 416.5 C521.0 416.9 524.1 418.4 526.6 419.0 C529.1 419.6 532.1 420.0 534.9 420.1 C537.6 420.3 540.5 420.1 543.2 419.8 C545.8 419.5 548.6 418.8 550.7 418.1 C552.7 417.5 554.8 416.5 555.6 416.2"/>
</g>
<defs><filter id="halo" x="-10%" y="-30%" width="120%" height="160%"><feMorphology in="SourceAlpha" operator="dilate" radius="1.1" result="d"/><feGaussianBlur in="d" stdDeviation="0.55" result="b"/><feFlood flood-color="#081c4a" flood-opacity="0.95"/><feComposite in2="b" operator="in" result="h"/><feMerge><feMergeNode in="h"/><feMergeNode in="SourceGraphic"/></feMerge></filter></defs>
<g id="labels" filter="url(#halo)">
<text x="235.00" y="35.30" textLength="58.75" lengthAdjust="spacingAndGlyphs">Artificial</text>
<text x="223.25" y="56.00" textLength="81.25" lengthAdjust="spacingAndGlyphs">Intelligence</text>
<text x="356.00" y="30.00" textLength="37.00" lengthAdjust="spacingAndGlyphs">Deep</text>
<text x="344.50" y="50.50" textLength="61.50" lengthAdjust="spacingAndGlyphs">Learning</text>
<text x="148.50" y="105.00" textLength="61.50" lengthAdjust="spacingAndGlyphs">Machine</text>
<text x="149.00" y="125.50" textLength="62.00" lengthAdjust="spacingAndGlyphs">Learning</text>
<text x="250.00" y="119.25" textLength="81.75" lengthAdjust="spacingAndGlyphs">Augmented</text>
<text x="266.00" y="140.00" textLength="49.00" lengthAdjust="spacingAndGlyphs">Reality</text>
<text x="40.00" y="126.00" textLength="69.50" lengthAdjust="spacingAndGlyphs">Computer</text>
<text x="54.25" y="146.50" textLength="42.50" lengthAdjust="spacingAndGlyphs">Vision</text>
<text x="132.00" y="180.50" textLength="61.00" lengthAdjust="spacingAndGlyphs">Robotics</text>
<text x="41.00" y="353.00" textLength="52.50" lengthAdjust="spacingAndGlyphs">Python</text>
<text x="121.00" y="353.00" textLength="53.25" lengthAdjust="spacingAndGlyphs">Natural</text>
<text x="114.00" y="369.50" textLength="66.50" lengthAdjust="spacingAndGlyphs">Language</text>
<text x="110.75" y="385.00" textLength="74.25" lengthAdjust="spacingAndGlyphs">Processing</text>
<text x="307.00" y="333.00" textLength="26.50" lengthAdjust="spacingAndGlyphs">C++</text>
<text x="228.25" y="384.50" textLength="47.75" lengthAdjust="spacingAndGlyphs">Neural</text>
<text x="218.25" y="405.00" textLength="67.25" lengthAdjust="spacingAndGlyphs">Networks</text>
<text x="136.50" y="425.50" textLength="48.00" lengthAdjust="spacingAndGlyphs">Virtual</text>
<text x="135.50" y="446.00" textLength="48.50" lengthAdjust="spacingAndGlyphs">Reality</text>
<text x="212.50" y="455.00" textLength="40.00" lengthAdjust="spacingAndGlyphs">Cyber</text>
<text x="204.50" y="476.00" textLength="56.25" lengthAdjust="spacingAndGlyphs">Security</text>
<text x="80.75" y="493.50" textLength="31.25" lengthAdjust="spacingAndGlyphs">Data</text>
<text x="60.75" y="514.25" textLength="71.75" lengthAdjust="spacingAndGlyphs">Structures</text>
<text x="387.00" y="494.50" textLength="56.00" lengthAdjust="spacingAndGlyphs">Chatbot</text>
<text x="367.00" y="515.00" textLength="93.75" lengthAdjust="spacingAndGlyphs">Development</text>
</g>
</svg>
<div id="edge"></div><div id="topline"></div><div id="topline2"></div>
</body></html>
